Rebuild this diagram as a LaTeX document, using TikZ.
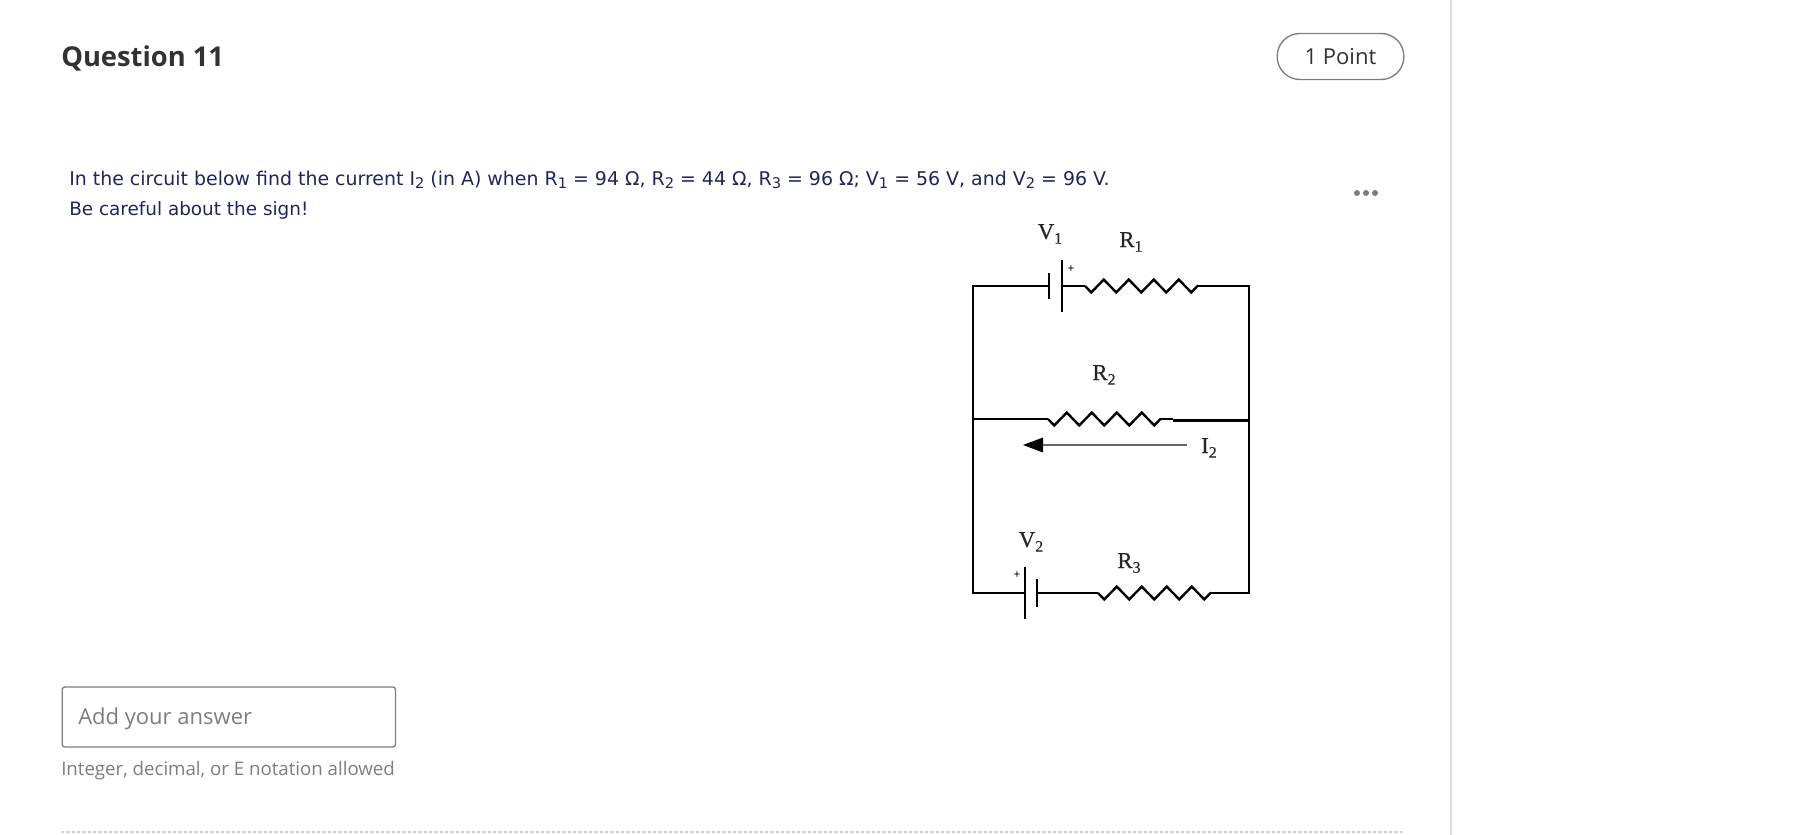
\documentclass[tikz,border=0pt]{standalone}
\usepackage{xcolor}
\usepackage{fontspec}
\usetikzlibrary{arrows.meta,positioning,decorations.pathmorphing}
\setmainfont{Liberation Serif}
\newfontfamily\uifont{Open Sans}
\newfontfamily\qfont{DejaVu Sans}
\newfontfamily\labelfont[FakeBold=0.5]{Liberation Serif}
\definecolor{ink}{RGB}{33, 37, 92}
\definecolor{uigray}{RGB}{125, 125, 125}
\definecolor{uidark}{RGB}{50, 50, 50}
\newcommand{\lowq}[1]{\raisebox{-0.35ex}{\fontsize{11pt}{12pt}\selectfont #1}}
\newcommand{\lowc}[1]{\raisebox{-0.45ex}{\fontsize{12pt}{12pt}\selectfont #1}}
\tikzstyle{wire} = [draw, line width=1.8pt, line join=miter]
\tikzstyle{plate} = [draw, line width=1.8pt]
\tikzstyle{resistor} = [wire, decorate, decoration={zigzag, segment length=18.75pt, amplitude=4.8pt, mirror}]
\tikzstyle{label} = [inner sep=0pt, anchor=base, font=\labelfont\fontsize{17pt}{18pt}\selectfont, text=black!85]
\tikzstyle{line} = [draw, line width=0.8pt, black!60, -{Triangle[length=15pt,width=11pt,black]}]
\tikzstyle{question} = [inner sep=0pt, anchor=base west, text=ink, font=\qfont\fontsize{14.2pt}{16pt}\selectfont]
\tikzstyle{ui} = [inner sep=0pt, font=\uifont\fontsize{16.5pt}{20pt}\selectfont]
\tikzstyle{dot} = [circle, fill=uigray, inner sep=0pt, minimum size=4.5pt]

\begin{document}
\begin{tikzpicture}[x=0.75pt, y=-0.75pt]
    \useasboundingbox (0,0) rectangle (1810,835);

    % page
    \node [ui, anchor=base west, font=\uifont\bfseries\fontsize{20.5pt}{26pt}\selectfont, text=uidark] (title) at (61,66) {Question 11};
    \node [ui, draw=uigray, line width=1pt, rounded corners=17pt, minimum width=95pt, minimum height=34.5pt, text=uidark] (points) at (1340.5,56.5) {1 Point};
    \node [dot] (dota) at (1357,193) {};
    \node [dot] (dotb) at (1366,193) {};
    \node [dot] (dotc) at (1375,193) {};
    \coordinate (railtop) at (1451,0);
    \coordinate (railbot) at (1451,835);
    \draw [black!13, line width=1pt] (railtop) -- (railbot);

    \node [question] (lineone) at (69,185) {In the circuit below find the current I\lowq{2} (in A) when R\lowq{1} = 94 Ω, R\lowq{2} = 44 Ω, R\lowq{3} = 96 Ω; V\lowq{1} = 56 V, and V\lowq{2} = 96 V.};
    \node [question, font=\qfont\fontsize{13.8pt}{16pt}\selectfont] (linetwo) at (69,215) {Be careful about the sign!};

    \node [ui, draw=uigray, line width=1pt, rounded corners=2pt, minimum width=250pt, minimum height=45pt, anchor=west] (answer) at (61.5,717) {};
    \node [ui, anchor=base west, text=uigray, font=\uifont\fontsize{16.5pt}{22pt}\selectfont] (hint) at (78,724.5) {Add your answer};
    \node [ui, anchor=base west, text=uigray, font=\uifont\fontsize{14pt}{18pt}\selectfont] (rule) at (61,775.5) {Integer, decimal, or E notation allowed};
    \coordinate (dashl) at (61,832);
    \coordinate (dashr) at (1404,832);
    \draw [black!18, line width=0.8pt, dash pattern=on 2.5pt off 1.5pt] (dashl) -- (dashr);

    % corners
    \coordinate (tl) at (973,286);
    \coordinate (tr) at (1249,286);
    \coordinate (ml) at (973,419);
    \coordinate (mr) at (1249,420.5);
    \coordinate (bl) at (973,593);
    \coordinate (br) at (1249,593);

    % top branch
    \coordinate (vonea) at (1049,286);
    \coordinate (voneb) at (1062,286);
    \coordinate (ronea) at (1085,286);
    \coordinate (roneb) at (1198,286);
    \path [plate] (1049,273) -- (1049,299);
    \path [plate] (1062,260) -- (1062,312);
    \coordinate (vtwob) at (1025,593);
    \coordinate (rthreeb) at (1211,593);
    \path [wire] (vonea) -- (tl) -- (bl) -- (vtwob);
    \path [wire] (voneb) -- (ronea);
    \path [resistor] (ronea) -- (roneb);
    \path [wire] (roneb) -- (tr) -- (br) -- (rthreeb);

    % middle branch
    \coordinate (rtwoa) at (1048,419);
    \coordinate (rtwob) at (1161,419);
    \coordinate (rtwoc) at (1173,419);
    \coordinate (rtwod) at (1173,420.5);
    \path [wire] (ml) -- (rtwoa);
    \path [resistor] (rtwoa) -- (rtwob);
    \path [wire] (rtwob) -- (rtwoc);
    \path [wire] (rtwod) -- (mr);

    % bottom branch
    \coordinate (vtwoa) at (1037,593);
    \coordinate (rthreea) at (1098,593);
    \path [plate] (1025,567) -- (1025,619);
    \path [plate] (1037,579) -- (1037,607);
    \path [wire] (vtwoa) -- (rthreea);
    \path [resistor] (rthreea) -- (rthreeb);

    % current
    \coordinate (ifrom) at (1187,445);
    \coordinate (ito) at (1023,445);
    \path [line] (ifrom) -- (ito);

    \node [label] (vone) at (1050,239) {V\lowc{1}};
    \node [label] (rone) at (1131,247) {R\lowc{1}};
    \node [label] (rtwo) at (1104,380) {R\lowc{2}};
    \node [label] (itwo) at (1209,453) {I\lowc{2}};
    \node [label] (vtwo) at (1031,547) {V\lowc{2}};
    \node [label] (rthree) at (1129,568) {R\lowc{3}};
    \node [inner sep=0pt, font=\fontsize{9pt}{9pt}\bfseries\selectfont] (plusone) at (1071,269) {+};
    \node [inner sep=0pt, font=\fontsize{9pt}{9pt}\bfseries\selectfont] (plustwo) at (1017,575) {+};
\end{tikzpicture}
\end{document}
